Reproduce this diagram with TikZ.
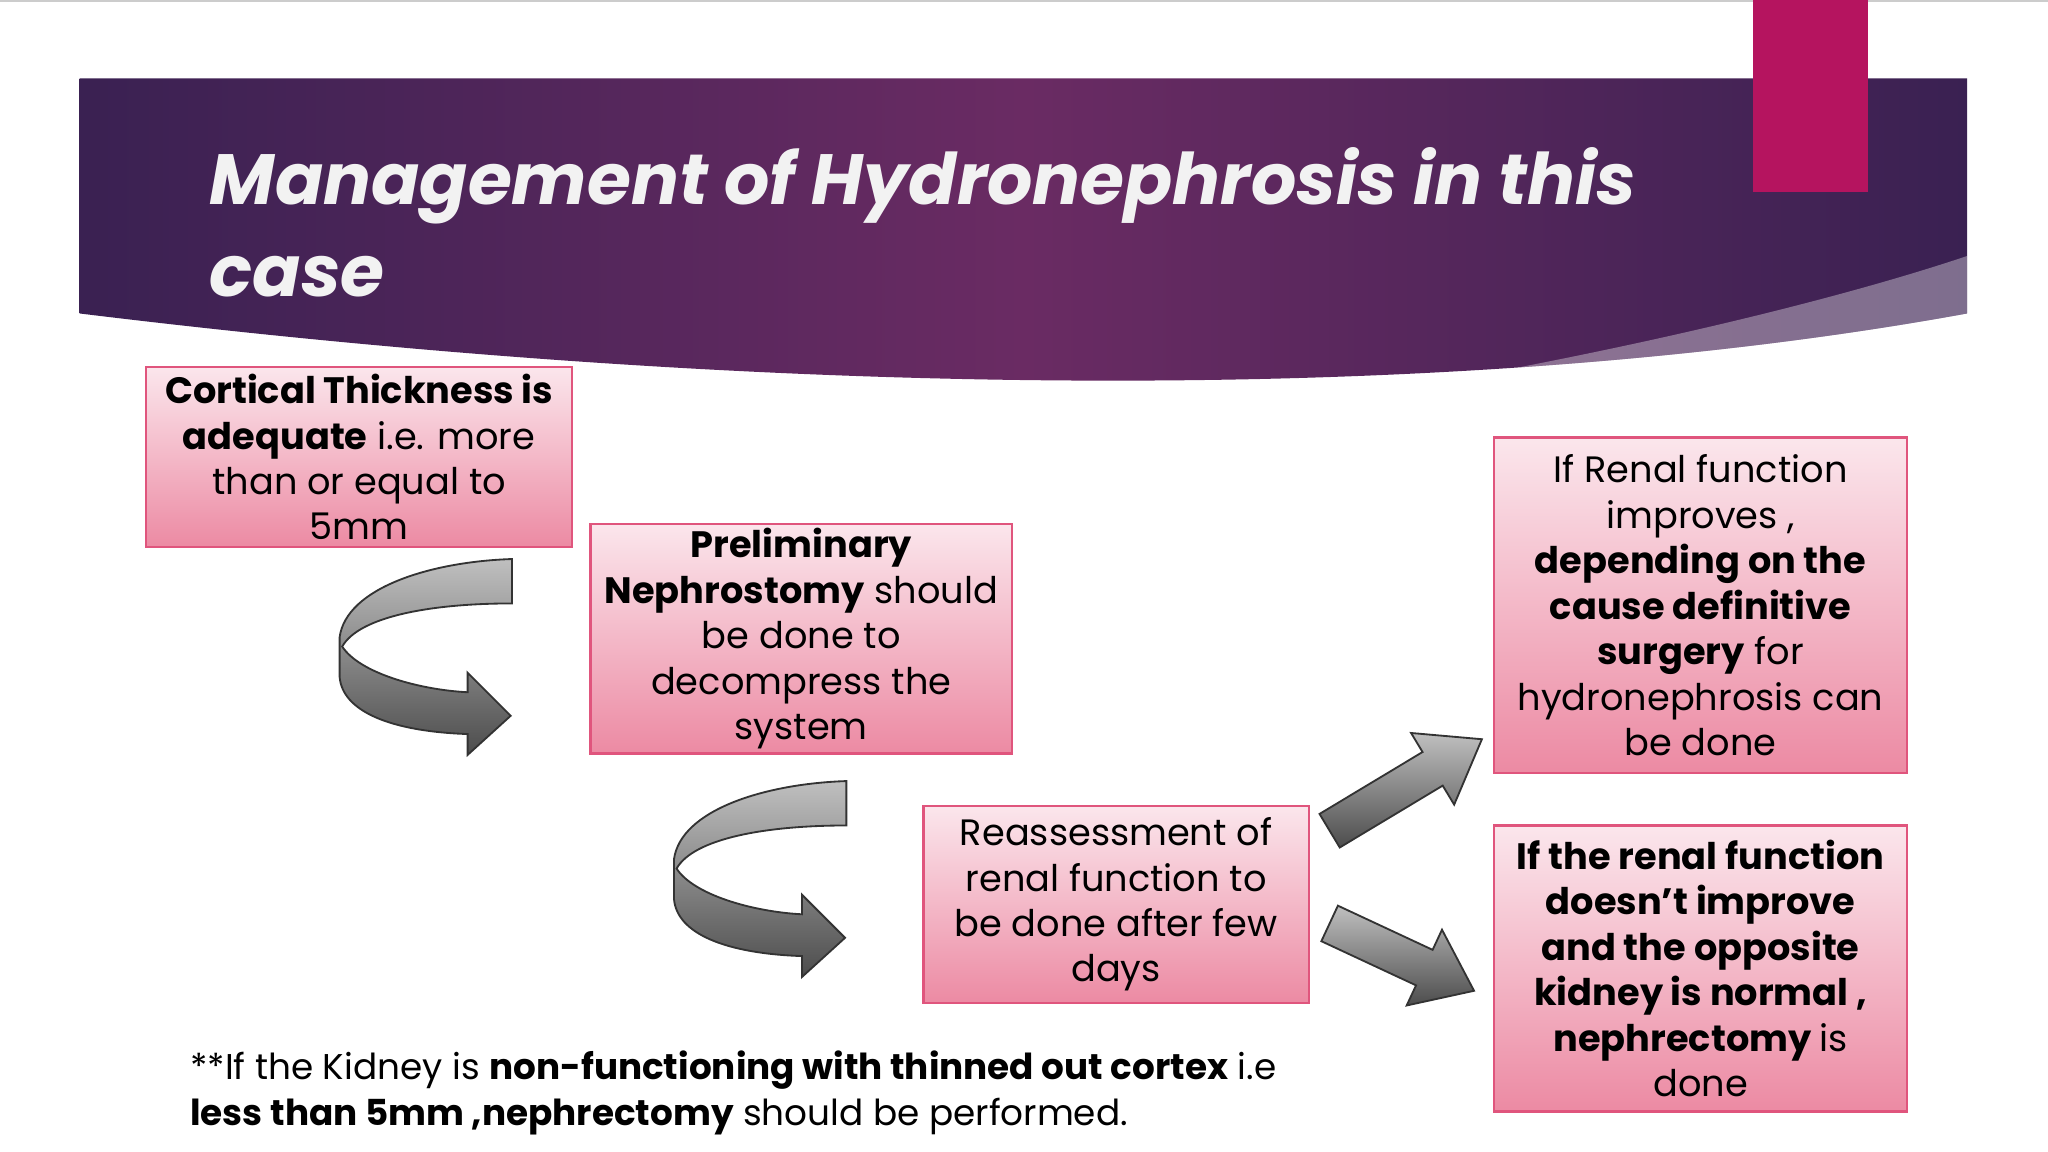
\documentclass[tikz,border=0pt]{standalone}
\usepackage{fontspec}
\setmainfont{Poppins}
\definecolor{boxtop}{HTML}{FBE6EC}
\definecolor{boxbot}{HTML}{EC8AA3}
\definecolor{boxline}{HTML}{E0557D}
\definecolor{pdark}{HTML}{3A2152}
\definecolor{pmid}{HTML}{6A2B63}
\definecolor{tab}{HTML}{B5145F}
\tikzset{
  pbox/.style={draw=boxline,line width=0.5pt,top color=boxtop,bottom color=boxbot,align=center,inner sep=1pt,font=\fontsize{8}{9.9}\selectfont},
  garrow/.style={draw=black!80,line width=0.4pt,top color=black!25,bottom color=black!70},
}
\begin{document}
\begin{tikzpicture}[x=0.1mm,y=-0.1mm]
\useasboundingbox (0,0) rectangle (1568,882);
\fill[white] (0,0) rectangle (1568,882);
\draw[black!20] (0,0.5) -- (1568,0.5);
% banner
\path[left color=pdark,right color=pdark,middle color=pmid] (61,60) -- (1506,60) -- (1506,240) .. controls (1150,305) and (650,312) .. (61,240) -- cycle;
\begin{scope}
\clip (61,60) -- (1506,60) -- (1506,240) .. controls (1150,305) and (650,312) .. (61,240) -- cycle;
\fill[white,opacity=0.35] (1506,196) .. controls (1420,225) and (1250,270) .. (1000,310) -- (1506,310) -- cycle;
\end{scope}
\fill[tab] (1342,0) rectangle (1430,147);
\node[anchor=north west,align=left,text=white!95!black,font=\fontsize{15.5}{20.2}\selectfont\bfseries\itshape,inner sep=0] (title) at (160,112) {Management of Hydronephrosis in this\\case};
% boxes
\node[pbox,minimum width=32.6mm,minimum height=13.8mm] (b1) at (275,350) {\textbf{Cortical Thickness is}\\\textbf{adequate} i.e. more\\than or equal to\\5mm};
\node[pbox,minimum width=32.3mm,minimum height=17.6mm] (b2) at (613.5,489) {\textbf{Preliminary}\\\textbf{Nephrostomy} should\\be done to\\decompress the\\system};
\node[pbox,minimum width=29.5mm,minimum height=15.1mm] (b3) at (854.5,692.5) {Reassessment of\\renal function to\\be done after few\\days};
\node[pbox,minimum width=31.6mm,minimum height=25.7mm] (b4) at (1302,463.5) {If Renal function\\improves ,\\\textbf{depending on the}\\\textbf{cause definitive}\\\textbf{surgery} for\\hydronephrosis can\\be done};
\node[pbox,minimum width=31.6mm,minimum height=21.9mm,font=\fontsize{8}{9.9}\selectfont\bfseries] (b5) at (1302,741.5) {If the renal function\\doesn’t improve\\and the opposite\\kidney is normal ,\\nephrectomy \textmd{is}\\\textmd{done}};
% curved arrows
\foreach \dx/\dy in {0/0,256/170}{
\path[garrow,shift={(\dx*0.1mm,-\dy*0.1mm)}] (392,428) -- (392,462) .. controls (330,462) and (275,472) .. (262,495)
  .. controls (275,515) and (320,528) .. (358,530) -- (358,515) -- (391,548) -- (358,578) -- (358,562)
  .. controls (300,560) and (262,545) .. (260,518) -- (260,488) .. controls (265,450) and (330,430) .. (392,428) -- cycle;
}
% straight arrows
\begin{scope}[shift={(1018,636)},rotate=31]
\coordinate (s1) at (0,0);
\path[garrow] (s1) -- ++(0,-15) -- ++(92,0) -- ++(0,-17) -- ++(44,32) -- ++(-44,32) -- ++(0,-17) -- ++(-92,0) -- cycle;
\end{scope}
\begin{scope}[shift={(1018,707)},rotate=-25]
\coordinate (s2) at (0,0);
\path[garrow] (s2) -- ++(0,-15) -- ++(80,0) -- ++(0,-17) -- ++(42,32) -- ++(-42,32) -- ++(0,-17) -- ++(-80,0) -- cycle;
\end{scope}
% footnote
\node[anchor=north west,align=left,inner sep=0,font=\fontsize{7.8}{9.9}\selectfont] (fn) at (145,804) {**If the Kidney is \textbf{non-functioning with thinned out cortex} i.e\\\textbf{less than 5mm ,nephrectomy} should be performed.};
\end{tikzpicture}
\end{document}
